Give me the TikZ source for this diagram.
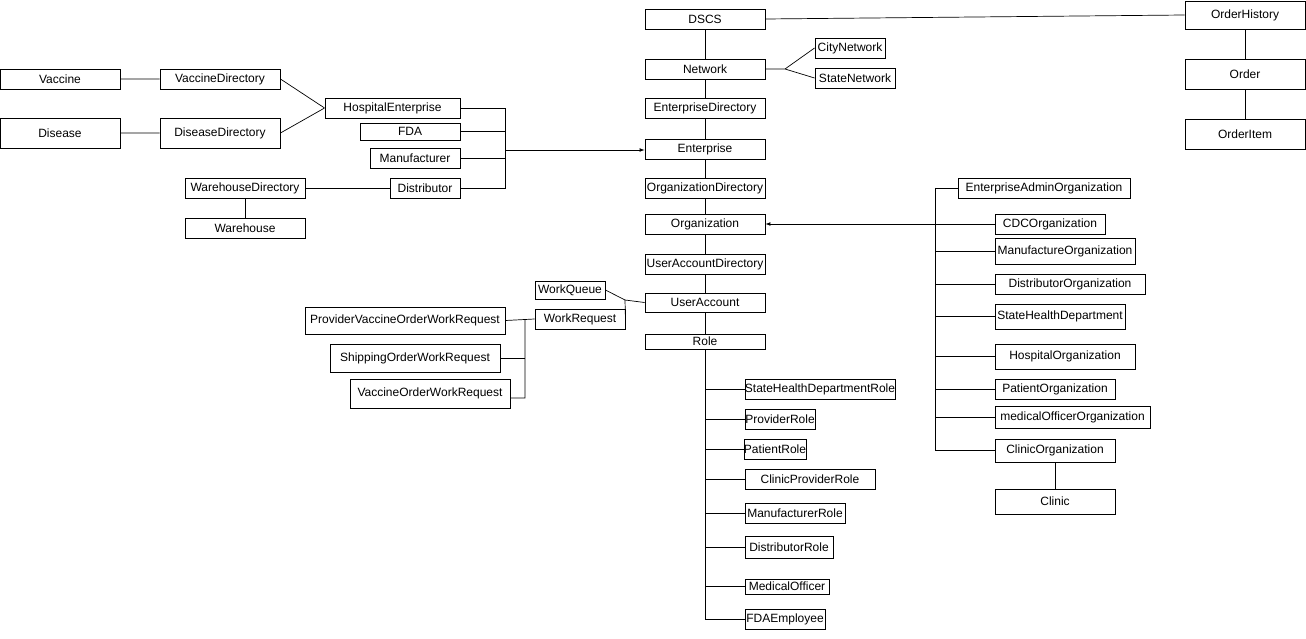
\documentclass[tikz,border=0pt]{standalone}
\usepackage{fontspec}
\setmainfont{Liberation Sans}
\usetikzlibrary{calc}
\tikzset{bx/.style={draw,line width=0.9pt,inner sep=0pt,font=\fontsize{12}{14}\selectfont},
 ln/.style={line width=0.7pt},ar/.style={ln,-latex}}
\newcommand\bx[6]{\node[bx,minimum width={(#4-#2)*1pt},minimum height={(#5-#3)*1pt}] (#1) at ({(#2+#4)/2},{(#3+#5)/2}) {#6};}
\begin{document}
\begin{tikzpicture}[x=1pt,y=-1pt]
\useasboundingbox (0,0) rectangle (1306,639);
\bx{dscs}{645}{9}{765}{29}{DSCS}
\bx{net}{645}{59}{765}{79}{Network}
\bx{ed}{645}{98}{765}{118}{EnterpriseDirectory}
\bx{ent}{645}{139}{765}{159}{Enterprise}
\bx{od}{645}{178}{765}{198}{OrganizationDirectory}
\bx{org}{645}{214}{765}{234}{Organization}
\bx{uad}{645}{254}{765}{274}{UserAccountDirectory}
\bx{ua}{645}{293}{765}{312}{UserAccount}
\bx{role}{645}{334}{765}{349}{Role}
\bx{city}{815}{38}{885}{58}{CityNetwork}
\bx{state}{815}{68}{895}{88}{StateNetwork}
\bx{oh}{1185}{1}{1305}{29}{OrderHistory}
\bx{order}{1185}{59}{1305}{89}{Order}
\bx{oi}{1185}{119}{1305}{149}{OrderItem}
\bx{vac}{0}{69}{120}{89}{Vaccine}
\bx{vd}{160}{69}{280}{89}{VaccineDirectory}
\bx{dis}{0}{118}{120}{148}{Disease}
\bx{dd}{160}{118}{280}{148}{DiseaseDirectory}
\bx{he}{325}{98}{460}{118}{HospitalEnterprise}
\bx{fda}{360}{123}{460}{140}{FDA}
\bx{man}{370}{148}{460}{168}{Manufacturer}
\bx{dist}{390}{178}{460}{198}{Distributor}
\bx{wd}{185}{178}{305}{198}{WarehouseDirectory}
\bx{wh}{185}{218}{305}{238}{Warehouse}
\bx{eao}{958}{178}{1130}{198}{EnterpriseAdminOrganization}
\bx{cdc}{995}{214}{1105}{234}{CDCOrganization}
\bx{mo}{995}{238}{1135}{264}{ManufactureOrganization}
\bx{do}{995}{274}{1145}{294}{DistributorOrganization}
\bx{shd}{995}{304}{1125}{329}{StateHealthDepartment}
\bx{ho}{995}{344}{1135}{369}{HospitalOrganization}
\bx{po}{995}{379}{1115}{399}{PatientOrganization}
\bx{moo}{995}{406}{1150}{428}{medicalOfficerOrganization}
\bx{co}{995}{439}{1115}{462}{ClinicOrganization}
\bx{cl}{995}{489}{1115}{514}{Clinic}
\bx{r1}{745}{379}{895}{399}{StateHealthDepartmentRole}
\bx{r2}{745}{409}{815}{429}{ProviderRole}
\bx{r3}{745}{439}{805}{459}{PatientRole}
\bx{r4}{745}{469}{875}{489}{ClinicProviderRole}
\bx{r5}{745}{503}{845}{523}{ManufacturerRole}
\bx{r6}{745}{536}{833}{558}{DistributorRole}
\bx{r7}{745}{579}{829}{594}{MedicalOfficer}
\bx{r8}{745}{609}{825}{629}{FDAEmployee}
\bx{wq}{535}{281}{605}{299}{WorkQueue}
\bx{wr}{535}{309}{625}{329}{WorkRequest}
\bx{pv}{305}{307}{505}{334}{ProviderVaccineOrderWorkRequest}
\bx{so}{330}{344}{500}{372}{ShippingOrderWorkRequest}
\bx{vo}{350}{379}{510}{408}{VaccineOrderWorkRequest}
% main chain
\foreach \a/\b in {dscs/net,net/ed,ed/ent,ent/od,od/org,org/uad,uad/ua,ua/role,oh/order,order/oi}
  \draw[ln] (\a) -- (\b);
\coordinate (nj) at (785,69);
\draw[ln] (net.east) -- (nj) -- (city.west) (nj) -- (state.west);
\draw[ln] (dscs.east) -- (oh.west);
% left
\draw[ln] (vac) -- (vd) (dis) -- (dd) (vd.east) -- (he.west) (dd.east) -- (he.west);
\draw[ln] (wd) -- (dist) (wd) -- (wh);
\coordinate (b1) at (505,108); \coordinate (b2) at (505,188); \coordinate (b3) at (505,150);
\draw[ln] (he.east) -- (b1) -- (b2) -- (dist.east);
\draw[ln] (fda.east) -- (fda.east-|b1) (man.east) -- (man.east-|b1);
\draw[ar] (b3) -- (b3-|ent.west);
% right orgs
\coordinate (o1) at (935,188); \coordinate (o2) at (935,450);
\draw[ln] (o1) -- (o2);
\draw[ln] (o1) -- (eao.west);
\foreach \n in {cdc,mo,do,shd,ho,po,moo,co} \draw[ln] (\n.west-|o1) -- (\n.west);
\draw[ar] (cdc.west-|o1) -- (org.east);
\draw[ln] (co) -- (cl);
% roles
\coordinate (rr) at (705,620);
\draw[ln] (role.south) -- (rr);
\foreach \n in {r1,r2,r3,r4,r5,r6,r7,r8} \draw[ln] (\n.west-|rr) -- (\n.west);
% work
\coordinate (wj) at (625,300);
\draw[ln] (ua.west) -- (wj) -- (wq.east) (wj) -- (wr.east);
\coordinate (w1) at (525,319); \coordinate (w2) at (525,398);
\draw[ln] (wr.west) -- (pv.east) (w1) -- (w2) -- (w2-|vo.east);
\draw[ln] (so.east) -- (so.east-|w1);
\end{tikzpicture}
\end{document}
